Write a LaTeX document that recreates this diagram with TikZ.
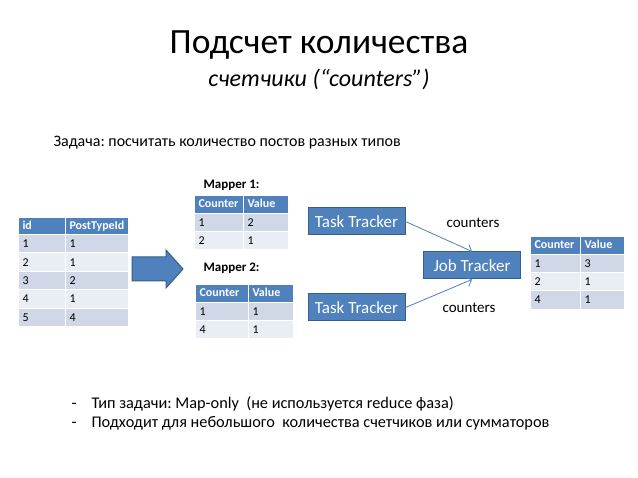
\documentclass[tikz,border=0pt]{standalone}
\usepackage{fontspec}
\setmainfont{Carlito}
\usetikzlibrary{arrows.meta}
\frenchspacing
\definecolor{hb}{RGB}{79,129,189}
\definecolor{ra}{RGB}{208,216,232}
\definecolor{rb}{RGB}{233,237,244}
\definecolor{bd}{RGB}{56,93,138}
\tikzset{
 hdr/.style={fill=hb,draw=white,line width=0.8pt},
 rowa/.style={fill=ra,draw=white,line width=0.8pt},
 rowb/.style={fill=rb,draw=white,line width=0.8pt},
 ct/.style={anchor=base west,font=\fontsize{12}{12}\selectfont},
 ch/.style={anchor=base west,font=\fontsize{12}{12}\selectfont\bfseries,text=white},
 tracker/.style={draw=bd,fill=hb,text=white,line width=1pt,minimum width=97pt,minimum height=27pt,font=\fontsize{17}{17}\selectfont},
 conn/.style={draw=hb,line width=0.8pt,-{Straight Barb[length=5pt]}},
 lbl/.style={font=\fontsize{15}{15}\selectfont}
}
\newcommand{\mytab}[8]{%
 \path[hdr] (#1,#4) rectangle (#2,#4+#5);
 \path[hdr] (#2,#4) rectangle (#3,#4+#5);
 \node[ch] at (#1+1,#4+#5/2+4) {#7};
 \node[ch] at (#2+1,#4+#5/2+4) {#8};
 \foreach \a/\b [count=\i] in #6 {
  \pgfmathsetmacro{\yt}{#4+#5+(\i-1)*18.4}
  \pgfmathtruncatemacro{\od}{mod(\i,2)}
  \ifnum\od=1 \def\st{rowa}\else\def\st{rowb}\fi
  \path[\st] (#1,\yt) rectangle (#2,\yt+18.4);
  \path[\st] (#2,\yt) rectangle (#3,\yt+18.4);
  \node[ct] at (#1+1,\yt+13.2) {\a};
  \node[ct] at (#2+1,\yt+13.2) {\b};
 }}
\begin{document}
\begin{tikzpicture}[x=1pt,y=-1pt]
\useasboundingbox[fill=white] (0,0) rectangle (638,478);
\node (title) at (319,45) {\fontsize{35.5}{35.5}\selectfont Подсчет количества};
\node (sub) at (319,79) {\fontsize{24}{24}\selectfont\itshape счетчики (“counters”)};
\node[anchor=west] (task) at (50,143) {\fontsize{16}{16}\selectfont Задача: посчитать количество постов разных типов};
\mytab{18}{65}{128}{217}{17.5}{{1/1,2/1,3/2,4/1,5/4}}{id}{PostTypeId}
\node[anchor=west,font=\fontsize{13}{13}\selectfont\bfseries] (m1) at (200,185) {Mapper 1:};
\mytab{194}{243}{288}{195}{18}{{1/2,2/1}}{Counter}{Value}
\node[anchor=west,font=\fontsize{13}{13}\selectfont\bfseries] (m2) at (200,268) {Mapper 2:};
\mytab{195}{248}{293}{284}{18}{{1/1,4/1}}{Counter}{Value}
\mytab{530}{580}{624}{236}{18}{{1/3,2/1,4/1}}{Counter}{Value}
\draw[draw=bd,fill=hb,line width=1pt] (132,257) -- (166,257) -- (166,250) -- (183,269) -- (166,288) -- (166,281) -- (132,281) -- cycle;
\node[tracker] (tt1) at (356.5,221.5) {Task Tracker};
\node[tracker] (tt2) at (356.5,307.5) {Task Tracker};
\node[tracker] (jt) at (472,265.5) {Job Tracker};
\draw[conn] (tt1.east) -- (jt.north);
\draw[conn] (tt2.east) -- (jt.south);
\node[lbl] (c1) at (473,223) {counters};
\node[lbl] (c2) at (469,308) {counters};
\node[anchor=west] (b1) at (68,404) {\fontsize{16.3}{16.3}\selectfont -\hspace{15pt}Тип задачи: Map-only\ \ (не используется reduce фаза)};
\node[anchor=west] (b2) at (68,423) {\fontsize{16.3}{16.3}\selectfont -\hspace{15pt}Подходит для небольшого\ \ количества счетчиков или сумматоров};
\end{tikzpicture}
\end{document}
